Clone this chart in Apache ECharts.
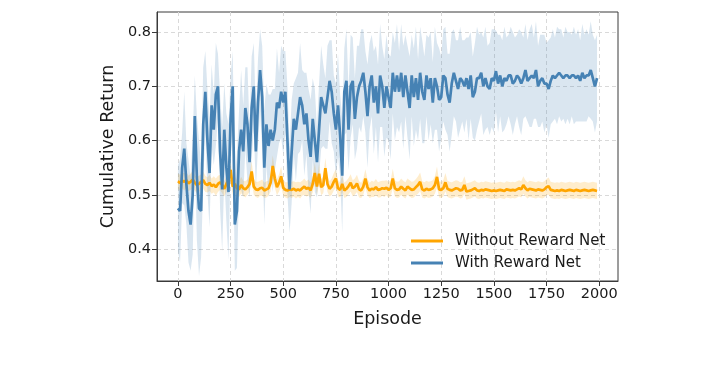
<!DOCTYPE html>
<html>
<head>
<meta charset="utf-8">
<script src="https://cdn.jsdelivr.net/npm/echarts@6/dist/echarts.min.js"></script>
<style>
html,body{margin:0;padding:0;background:#fff;}
#c{width:722px;height:365px;}
</style>
</head>
<body>
<div id="c"></div>
<script>
// Episodes sampled every 10 steps (0 .. 1990)
const episodes = Array.from({length: 200}, (_, i) => i * 10);

const xTicks = [0, 250, 500, 750, 1000, 1250, 1500, 1750, 2000];
const yTicks = [0.4, 0.5, 0.6, 0.7, 0.8];

const seriesNames = ['Without Reward Net', 'With Reward Net'];

// Without Reward Net: mean and std
const withoutMean = [
0.525,0.522,0.526,0.524,0.527,0.521,0.524,0.528,0.522,0.518,
0.520,0.524,0.527,0.520,0.518,0.522,0.516,0.519,0.514,0.520,
0.523,0.518,0.511,0.520,0.528,0.546,0.515,0.520,0.512,0.510,
0.518,0.512,0.510,0.514,0.520,0.543,0.515,0.510,0.509,0.512,
0.513,0.508,0.510,0.512,0.522,0.553,0.530,0.514,0.522,0.534,
0.513,0.509,0.508,0.510,0.509,0.511,0.508,0.510,0.508,0.512,
0.515,0.511,0.513,0.508,0.520,0.540,0.515,0.539,0.514,0.518,
0.549,0.520,0.511,0.515,0.524,0.530,0.512,0.509,0.520,0.508,
0.511,0.516,0.522,0.512,0.515,0.521,0.510,0.508,0.515,0.530,
0.514,0.508,0.511,0.510,0.514,0.509,0.510,0.512,0.511,0.513,
0.509,0.512,0.530,0.512,0.509,0.510,0.515,0.511,0.508,0.515,
0.512,0.509,0.510,0.514,0.518,0.524,0.510,0.508,0.511,0.509,
0.510,0.512,0.518,0.533,0.510,0.509,0.512,0.523,0.511,0.509,
0.508,0.510,0.512,0.511,0.508,0.509,0.518,0.506,0.507,0.508,
0.510,0.512,0.508,0.507,0.509,0.508,0.510,0.509,0.508,0.507,
0.508,0.507,0.508,0.509,0.508,0.507,0.510,0.509,0.508,0.509,
0.508,0.510,0.512,0.510,0.518,0.512,0.508,0.511,0.510,0.509,
0.508,0.510,0.509,0.508,0.510,0.514,0.516,0.509,0.508,0.507,
0.508,0.507,0.509,0.508,0.507,0.508,0.509,0.508,0.507,0.509,
0.508,0.507,0.508,0.509,0.508,0.507,0.508,0.509,0.508,0.507
];
const withoutStd = [
0.014,0.015,0.014,0.016,0.015,0.014,0.015,0.016,0.014,0.015,
0.015,0.014,0.016,0.015,0.014,0.015,0.014,0.015,0.016,0.015,
0.014,0.015,0.014,0.015,0.016,0.020,0.015,0.014,0.015,0.014,
0.015,0.014,0.015,0.014,0.015,0.019,0.015,0.014,0.015,0.014,
0.015,0.014,0.015,0.014,0.016,0.020,0.017,0.015,0.016,0.018,
0.015,0.014,0.015,0.014,0.015,0.014,0.015,0.014,0.015,0.014,
0.015,0.014,0.015,0.014,0.016,0.019,0.015,0.018,0.015,0.015,
0.019,0.015,0.014,0.015,0.016,0.017,0.015,0.014,0.015,0.014,
0.015,0.015,0.016,0.015,0.015,0.016,0.015,0.014,0.015,0.017,
0.015,0.014,0.015,0.014,0.015,0.014,0.015,0.014,0.015,0.014,
0.015,0.015,0.018,0.015,0.015,0.015,0.015,0.015,0.015,0.015,
0.015,0.015,0.015,0.015,0.016,0.017,0.015,0.015,0.015,0.015,
0.015,0.015,0.016,0.019,0.015,0.015,0.015,0.017,0.015,0.015,
0.015,0.015,0.015,0.015,0.015,0.015,0.016,0.015,0.015,0.015,
0.015,0.015,0.015,0.015,0.015,0.015,0.015,0.015,0.015,0.015,
0.015,0.015,0.015,0.015,0.015,0.015,0.015,0.015,0.015,0.015,
0.015,0.015,0.015,0.015,0.016,0.015,0.015,0.015,0.015,0.015,
0.015,0.015,0.015,0.015,0.015,0.015,0.016,0.015,0.015,0.015,
0.015,0.015,0.015,0.015,0.015,0.015,0.015,0.015,0.015,0.015,
0.015,0.015,0.015,0.015,0.015,0.015,0.015,0.015,0.015,0.015
];

// With Reward Net: mean and std
const withMean = [
0.475,0.470,0.550,0.585,0.520,0.470,0.445,0.500,0.645,0.530,
0.475,0.470,0.630,0.690,0.600,0.540,0.665,0.620,0.685,0.700,
0.580,0.510,0.620,0.550,0.505,0.640,0.700,0.445,0.470,0.580,
0.620,0.580,0.660,0.630,0.560,0.660,0.700,0.580,0.670,0.730,
0.680,0.550,0.630,0.590,0.620,0.600,0.620,0.670,0.660,0.690,
0.670,0.690,0.600,0.510,0.580,0.640,0.620,0.650,0.680,0.665,
0.630,0.650,0.600,0.570,0.640,0.600,0.560,0.620,0.680,0.665,
0.650,0.680,0.710,0.690,0.650,0.620,0.665,0.610,0.535,0.690,
0.710,0.620,0.700,0.710,0.640,0.680,0.700,0.710,0.725,0.690,
0.645,0.700,0.720,0.670,0.700,0.650,0.720,0.700,0.660,0.700,
0.680,0.660,0.725,0.690,0.720,0.690,0.725,0.680,0.720,0.690,
0.660,0.720,0.680,0.715,0.675,0.725,0.690,0.675,0.720,0.695,
0.715,0.670,0.715,0.700,0.675,0.680,0.720,0.715,0.685,0.670,
0.705,0.725,0.710,0.695,0.715,0.710,0.700,0.715,0.695,0.720,
0.680,0.690,0.715,0.715,0.725,0.700,0.715,0.700,0.695,0.715,
0.710,0.728,0.705,0.720,0.700,0.715,0.710,0.720,0.720,0.705,
0.710,0.720,0.715,0.705,0.715,0.730,0.710,0.715,0.720,0.715,
0.730,0.700,0.710,0.715,0.705,0.705,0.695,0.710,0.720,0.715,
0.720,0.725,0.720,0.715,0.720,0.720,0.715,0.720,0.720,0.715,
0.720,0.710,0.725,0.715,0.720,0.720,0.730,0.715,0.700,0.715
];
const withStd = [
0.080,0.095,0.065,0.105,0.075,0.095,0.085,0.110,0.075,0.115,
0.125,0.085,0.105,0.075,0.095,0.100,0.075,0.065,0.095,0.060,
0.105,0.115,0.085,0.100,0.125,0.080,0.065,0.085,0.105,0.075,
0.110,0.085,0.075,0.105,0.065,0.095,0.080,0.070,0.080,0.075,
0.095,0.105,0.075,0.095,0.065,0.095,0.075,0.100,0.065,0.085,
0.095,0.075,0.100,0.080,0.095,0.065,0.095,0.075,0.100,0.065,
0.095,0.075,0.095,0.105,0.075,0.095,0.065,0.085,0.095,0.075,
0.065,0.095,0.075,0.095,0.070,0.085,0.095,0.075,0.105,0.080,
0.095,0.075,0.095,0.080,0.075,0.095,0.075,0.095,0.080,0.075,
0.095,0.080,0.075,0.095,0.075,0.090,0.095,0.075,0.090,0.095,
0.080,0.095,0.075,0.090,0.095,0.075,0.090,0.095,0.075,0.085,
0.095,0.075,0.090,0.095,0.075,0.085,0.095,0.080,0.075,0.095,
0.085,0.075,0.095,0.080,0.095,0.075,0.085,0.095,0.075,0.090,
0.095,0.080,0.075,0.090,0.095,0.075,0.085,0.075,0.095,0.080,
0.075,0.090,0.095,0.080,0.075,0.090,0.095,0.075,0.085,0.090,
0.095,0.075,0.090,0.075,0.085,0.095,0.080,0.075,0.090,0.095,
0.080,0.075,0.090,0.095,0.075,0.085,0.075,0.090,0.095,0.075,
0.090,0.075,0.085,0.080,0.090,0.075,0.090,0.080,0.085,0.075,
0.090,0.080,0.085,0.075,0.090,0.080,0.085,0.075,0.090,0.080,
0.085,0.075,0.090,0.080,0.085,0.075,0.090,0.080,0.085,0.080
];

const ORANGE = '#FFA500';
const BLUE = '#4682B4';
const FONT = 'DejaVu Sans';

function pairs(arr) { return episodes.map((e, i) => [e, arr[i]]); }
function bandData(m, s) { return episodes.map((e, i) => [e, m[i] - s[i], m[i] + s[i]]); }

function bandSeries(name, m, s, fill, z) {
  const data = bandData(m, s);
  return {
    name: name, type: 'custom', silent: true, clip: true, z: z,
    encode: { x: 0, y: [1, 2] },
    data: data,
    renderItem: function (params, api) {
      if (params.dataIndex !== 0) return null;
      const top = [], bottom = [];
      for (let i = 0; i < data.length; i++) {
        top.push(api.coord([data[i][0], data[i][2]]));
        bottom.push(api.coord([data[i][0], data[i][1]]));
      }
      const pts = top.concat(bottom.reverse());
      return { type: 'polygon', shape: { points: pts }, style: { fill: fill, stroke: null } };
    }
  };
}

const chart = echarts.init(document.getElementById('c'), null, { renderer: 'canvas' });
chart.setOption({
  animation: false,
  backgroundColor: '#ffffff',
  textStyle: { fontFamily: FONT },
  grid: { left: 157, right: 104, top: 12, bottom: 84, show: true,
          borderColor: '#3a3a3a', borderWidth: 1, backgroundColor: 'transparent' },
  legend: {
    data: seriesNames,
    orient: 'vertical',
    left: 406, top: 227,
    itemWidth: 32, itemHeight: 3, itemGap: 4,
    icon: 'rect',
    textStyle: { fontFamily: FONT, fontSize: 15, color: '#1a1a1a', lineHeight: 18, padding: [0, 0, 0, 7] },
    selectedMode: false
  },
  xAxis: {
    type: 'value', min: -99.5, max: 2089.5,
    name: 'Episode', nameLocation: 'middle', nameGap: 29,
    nameTextStyle: { fontFamily: FONT, fontSize: 17.5, color: '#1a1a1a' },
    axisLine: { show: true, onZero: false, lineStyle: { color: '#3a3a3a', width: 1 } },
    axisTick: { show: true, length: 5, customValues: xTicks, lineStyle: { color: '#3a3a3a' } },
    axisLabel: { customValues: xTicks, fontFamily: FONT, fontSize: 14.5, color: '#1a1a1a', margin: 6,
                 formatter: v => String(v) },
    splitLine: { show: true, lineStyle: { color: '#d9d9d9', type: [4, 3], width: 1 } }
  },
  yAxis: {
    type: 'value', min: 0.341, max: 0.837,
    name: 'Cumulative Return', nameLocation: 'middle', nameGap: 39,
    nameTextStyle: { fontFamily: FONT, fontSize: 17.5, color: '#1a1a1a' },
    axisLine: { show: true, onZero: false, lineStyle: { color: '#3a3a3a', width: 1 } },
    axisTick: { show: true, length: 5, customValues: yTicks, lineStyle: { color: '#3a3a3a' } },
    axisLabel: { customValues: yTicks, fontFamily: FONT, fontSize: 14.5, color: '#1a1a1a', margin: 6,
                 formatter: v => v.toFixed(1) },
    splitLine: { show: true, lineStyle: { color: '#d9d9d9', type: [4, 3], width: 1 } }
  },
  series: [
    bandSeries('o_band', withoutMean, withoutStd, 'rgba(255,165,0,0.2)', 1),
    { name: seriesNames[0], type: 'line', symbol: 'none', data: pairs(withoutMean), clip: true,
      lineStyle: { color: ORANGE, width: 2.7 }, itemStyle: { color: ORANGE }, z: 3 },
    bandSeries('b_band', withMean, withStd, 'rgba(70,130,180,0.2)', 2),
    { name: seriesNames[1], type: 'line', symbol: 'none', data: pairs(withMean), clip: true,
      lineStyle: { color: BLUE, width: 2.7 }, itemStyle: { color: BLUE }, z: 4 }
  ]
});
</script>
</body>
</html>
